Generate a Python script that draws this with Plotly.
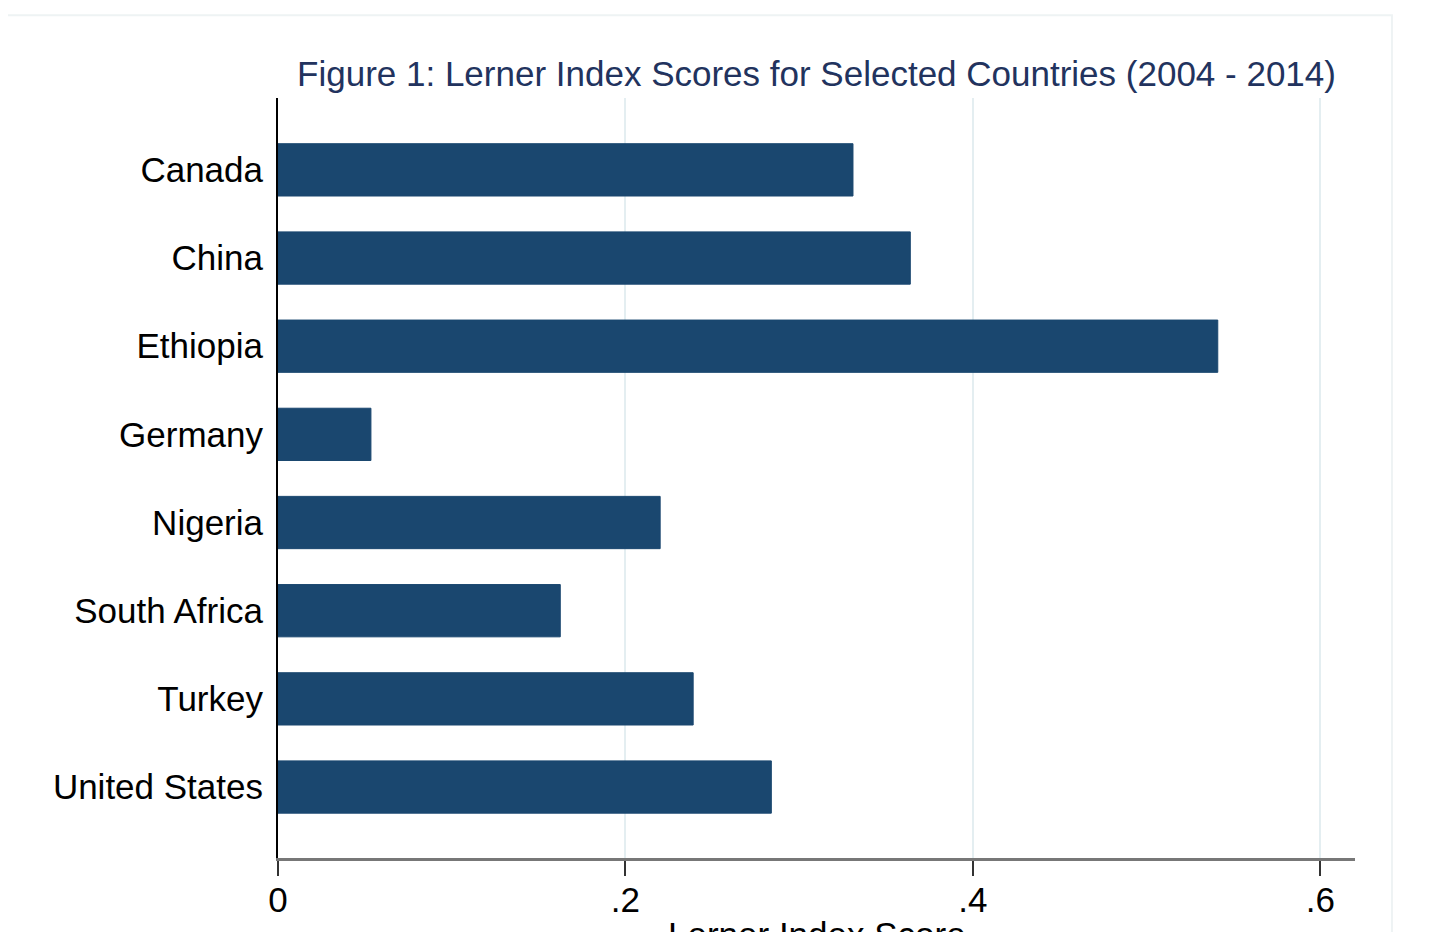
import plotly.graph_objects as go

# Lerner index scores
countries = ['Canada', 'China', 'Ethiopia', 'Germany', 'Nigeria',
             'South Africa', 'Turkey', 'United States']
lerner_scores = [0.331, 0.364, 0.541, 0.0535, 0.220, 0.1625, 0.239, 0.284]
tick_vals = [0, 0.2, 0.4, 0.6]
tick_text = ['0', '.2', '.4', '.6']

BAR_COLOR = '#1a476f'
TITLE_COLOR = '#22335e'
GRID_COLOR = '#e4eef1'
FONT = 'Liberation Sans, Arial, sans-serif'

fig = go.Figure()

fig.add_trace(go.Bar(
    x=lerner_scores,
    y=countries,
    orientation='h',
    width=0.593,
    marker=dict(color=BAR_COLOR, line=dict(color=BAR_COLOR, width=1)),
    showlegend=False,
))

fig.update_layout(
    width=1448,
    height=924,
    margin=dict(l=270, r=101, t=90, b=74),
    paper_bgcolor='white',
    plot_bgcolor='white',
    font=dict(family=FONT, color='black', size=35),
    title=dict(
        text='Figure 1: Lerner Index Scores for Selected Countries (2004 - 2014)',
        x=0.5, xref='paper', xanchor='center',
        y=1 - 66 / 924, yref='container', yanchor='middle',
        font=dict(family=FONT, size=35, color=TITLE_COLOR),
    ),
    xaxis=dict(
        range=[0, 0.62],
        tickvals=tick_vals,
        ticktext=tick_text,
        ticks='outside',
        ticklen=15,
        tickwidth=2,
        tickcolor='#333333',
        ticklabelstandoff=-6,
        showline=True,
        linecolor='#777777',
        linewidth=3,
        showgrid=True,
        gridcolor=GRID_COLOR,
        gridwidth=2,
        zeroline=False,
        tickfont=dict(size=35),
        automargin=False,
        fixedrange=True,
    ),
    yaxis=dict(
        categoryorder='array',
        categoryarray=countries,
        range=[7.805, -0.815],
        showline=True,
        linecolor='black',
        linewidth=2,
        showgrid=False,
        zeroline=False,
        ticks='',
        ticklabelstandoff=6,
        tickfont=dict(size=35),
        automargin=False,
        fixedrange=True,
    ),
    bargap=0.4,
)

# x axis title sits low, partly cut by the bottom edge as in the reference
fig.add_annotation(
    text='Lerner Index Score', xref='paper', yref='paper',
    x=0.5, y=-0.072, xanchor='center', yanchor='top',
    showarrow=False, font=dict(size=35, color='black'),
)

# light frame around the graph region, as in the exported Stata graph
fig.add_shape(
    type='rect', xref='paper', yref='paper',
    x0=-0.262, x1=1.0343, y0=-0.3, y1=1.109,
    line=dict(color='#eef3f4', width=2),
    fillcolor='rgba(0,0,0,0)', layer='below',
)

fig.write_html('out.html')
